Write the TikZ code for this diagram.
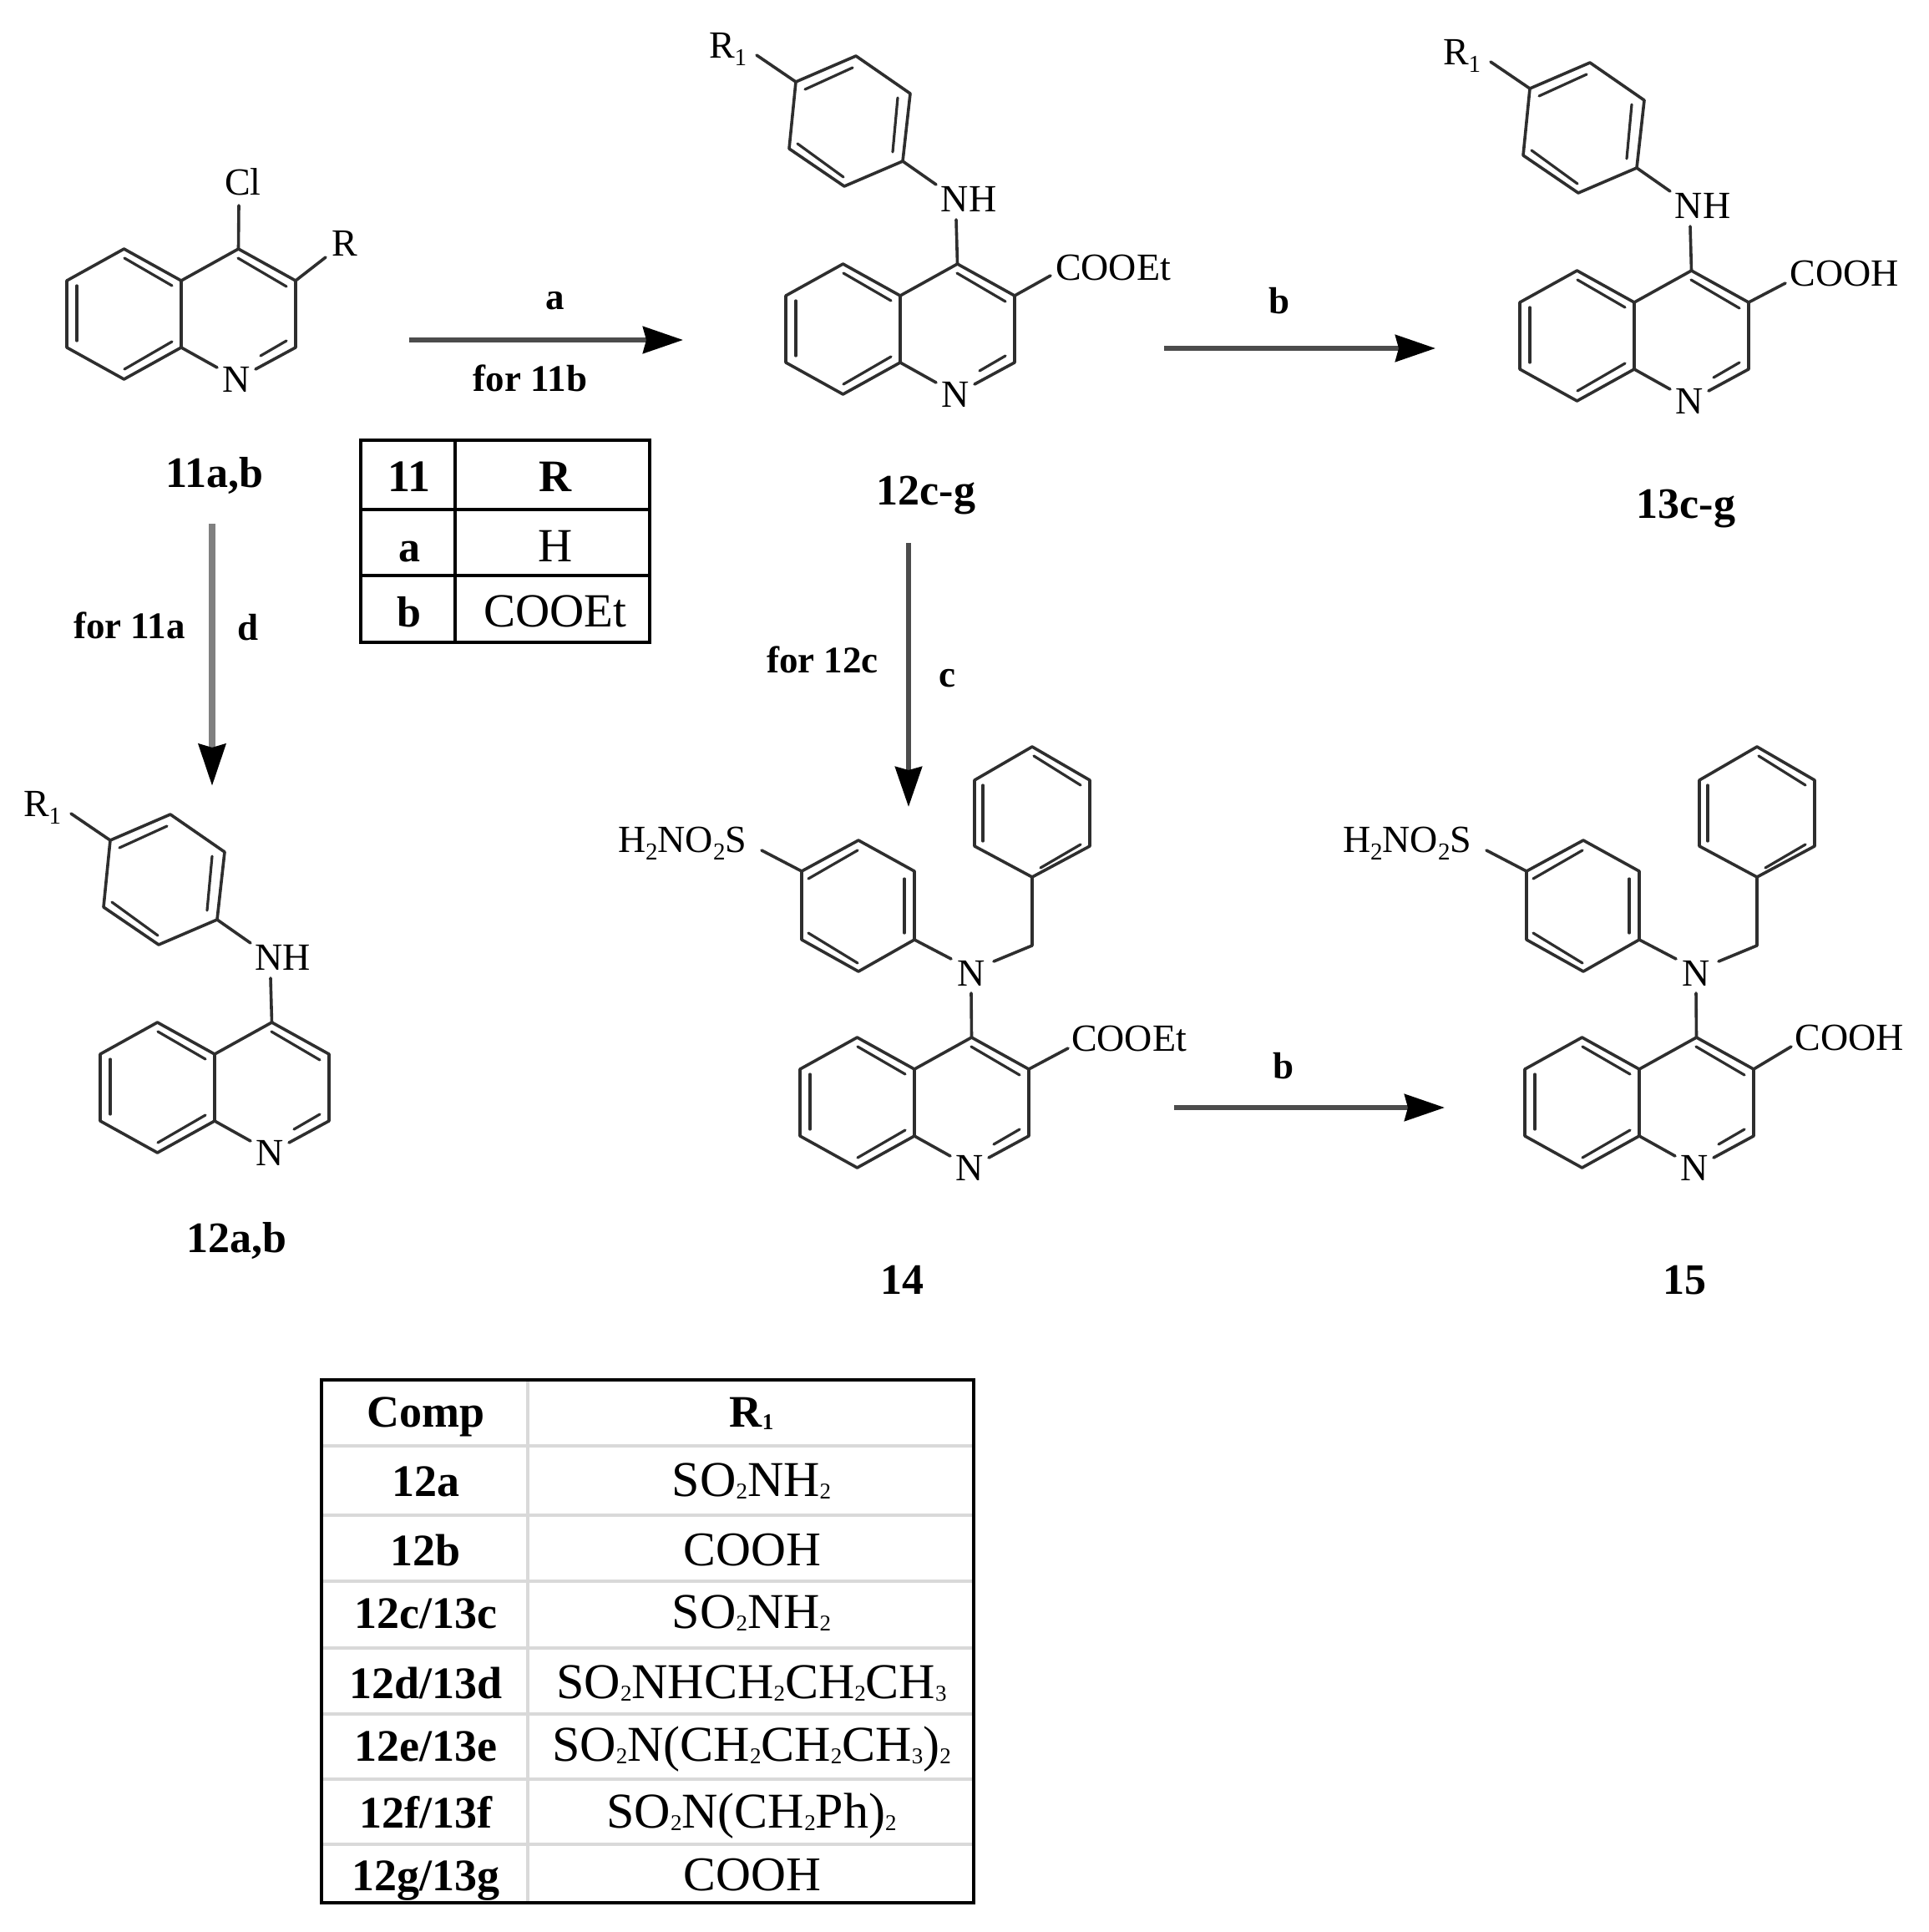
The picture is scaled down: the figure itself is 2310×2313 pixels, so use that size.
\documentclass[tikz,border=0pt]{standalone}
\usepackage{fontspec}
\setmainfont{Liberation Serif}
\usetikzlibrary{arrows.meta}
\definecolor{bondc}{HTML}{2E2E2E}
\definecolor{arrc}{HTML}{4C4C4C}
\definecolor{arrd}{HTML}{808080}
\definecolor{gridc}{HTML}{D9D9D9}
\newcommand{\asub}[1]{\raisebox{-9pt}{\fontsize{29}{29}\selectfont #1}}
\newcommand{\tsub}[1]{\raisebox{-3pt}{\fontsize{27}{27}\selectfont #1}}
\tikzset{
  x=1pt,y=-1pt,
  bond/.style={draw=bondc,line width=3.6pt,line cap=round,line join=round},
  inner/.style={draw=bondc,line width=3.2pt,line cap=round},
  lab/.style={inner sep=0pt,outer sep=0pt,anchor=base,text=black},
  atom/.style={lab,font=\fontsize{46}{46}\selectfont},
  cname/.style={lab,font=\fontsize{52}{52}\selectfont\bfseries},
  rxn/.style={lab,font=\fontsize{45}{45}\selectfont\bfseries},
  tb/.style={lab,font=\fontsize{54}{54}\selectfont\bfseries},
  tr/.style={lab,font=\fontsize{60}{60}\selectfont},
  tq/.style={lab,font=\fontsize{57}{57}\selectfont},
  rarrow/.style={draw=arrc,line width=6pt,-{Stealth[length=48pt,width=32pt,inset=4pt,color=black,fill=black]}},
  darrow/.style={draw=arrd,line width=8pt,-{Stealth[length=50pt,width=32pt,inset=4pt,color=black,fill=black]}},
}
% quinoline core; #1 prefix, #2,#3 position of C4a
\newcommand{\quinoline}[3]{%
  \coordinate (#1o) at (#2,#3);
  \begin{scope}[shift={(#1o)}]
    \coordinate (#1c4a) at (0,0);
    \coordinate (#1c4) at (68.5,-38);
    \coordinate (#1c3) at (137,0);
    \coordinate (#1c2) at (137,80);
    \coordinate (#1c8a) at (0,80);
    \coordinate (#1c8) at (-68.5,118);
    \coordinate (#1c7) at (-137,80);
    \coordinate (#1c6) at (-137,0);
    \coordinate (#1c5) at (-68.5,-38);
    \node[atom] (#1n) at (66.5,133) {N};
    \path[bond] (#1c8a) -- (#1c8) -- (#1c7) -- (#1c6) -- (#1c5) -- (#1c4a) -- (#1c4) -- (#1c3) -- (#1c2) (#1c4a) -- (#1c8a);
    \path[bond] (#1c8a) -- (43,104);
    \path[bond] (#1c2) -- (89,106);
    \path[inner] (-68,-27) -- (-11,6);
    \path[inner] (-125,6) -- (-125,72);
    \path[inner] (-68,106) -- (-11,73);
    \path[inner] (68,-27) -- (126,7);
    \path[inner] (126,72) -- (95,90);
  \end{scope}}
% NH-aryl-R1 substituent, relative to C4a
\newcommand{\anilino}[1]{%
  \begin{scope}[shift={(#1o)}]
    \coordinate (#1a) at (-125,-256);
    \coordinate (#1b) at (-53,-287);
    \coordinate (#1d) at (12,-242);
    \coordinate (#1e) at (3,-161);
    \coordinate (#1f) at (-67,-131);
    \coordinate (#1g) at (-133,-176);
    \path[bond] (#1a) -- (#1b) -- (#1d) -- (#1e) -- (#1f) -- (#1g) -- cycle;
    \path[inner] (-114,-247) -- (-57,-273);
    \path[inner] (-3,-237) -- (-9,-172);
    \path[inner] (-68,-142) -- (-123,-182);
    \node[atom] (#1nh) at (82,-101) {NH};
    \coordinate (#1nhw) at (43,-133);
    \coordinate (#1nhs) at (67,-91);
    \path[bond] (#1e) -- (#1nhw);
    \path[bond] (#1nhs) -- (#1c4);
    \node[atom,anchor=base west] (#1r) at (-229,-285) {R\asub{1}};
    \coordinate (#1re) at (-172,-288);
    \path[bond] (#1re) -- (#1a);
  \end{scope}}
% N(benzyl)-aryl-SO2NH2 substituent, relative to C4a
\newcommand{\benzylamino}[1]{%
  \begin{scope}[shift={(#1o)}]
    \coordinate (#1a) at (-135,-237);
    \coordinate (#1b) at (-67,-274);
    \coordinate (#1d) at (0,-237);
    \coordinate (#1e) at (0,-155);
    \coordinate (#1f) at (-67,-117);
    \coordinate (#1g) at (-135,-155);
    \path[bond] (#1a) -- (#1b) -- (#1d) -- (#1e) -- (#1f) -- (#1g) -- cycle;
    \path[inner] (-127,-228) -- (-68,-262);
    \path[inner] (-12,-228) -- (-12,-163);
    \path[inner] (-68,-127) -- (-127,-163);
    \node[atom] (#1nn) at (68,-100) {N};
    \coordinate (#1nw) at (44,-132);
    \coordinate (#1ns) at (68,-91);
    \coordinate (#1ne) at (95,-129);
    \coordinate (#1ch) at (141,-148);
    \coordinate (#1p1) at (141,-230);
    \coordinate (#1p2) at (210,-267);
    \coordinate (#1p3) at (210,-346);
    \coordinate (#1p4) at (141,-386);
    \coordinate (#1p5) at (72,-346);
    \coordinate (#1p6) at (72,-267);
    \path[bond] (#1e) -- (#1nw);
    \path[bond] (#1ns) -- (#1c4);
    \path[bond] (#1ne) -- (#1ch) -- (#1p1);
    \path[bond] (#1p1) -- (#1p2) -- (#1p3) -- (#1p4) -- (#1p5) -- (#1p6) -- cycle;
    \path[inner] (151,-241) -- (199,-269);
    \path[inner] (143,-375) -- (199,-340);
    \path[inner] (82,-340) -- (82,-273);
    \node[atom,anchor=base west] (#1so) at (-355,-260) {H\asub{2}NO\asub{2}S};
    \coordinate (#1se) at (-183,-262);
    \path[bond] (#1se) -- (#1a);
  \end{scope}}
\begin{document}
\begin{tikzpicture}
\useasboundingbox (0,0) rectangle (2310,2313);
% 11a,b
\quinoline{p}{217}{336}
\begin{scope}[shift={(po)}]
  \node[atom] (pcl) at (74,-103) {Cl};
  \coordinate (pcle) at (69,-90);
  \path[bond] (pcle) -- (pc4);
  \node[atom] (prr) at (196,-30) {R};
  \coordinate (prre) at (173,-28);
  \path[bond] (prre) -- (pc3);
\end{scope}
\node[cname] (l11) at (257,583) {11a,b};
% 12c-g
\quinoline{q}{1078}{354}
\anilino{q}
\begin{scope}[shift={(qo)}]
  \node[atom] (qco) at (255,-19) {COOEt};
  \coordinate (qcoe) at (180,-24);
  \path[bond] (qcoe) -- (qc3);
\end{scope}
\node[cname] (l12cg) at (1109,604) {12c-g};
% 13c-g
\quinoline{s}{1957}{362}
\anilino{s}
\begin{scope}[shift={(so)}]
  \node[atom] (sco) at (252,-20) {COOH};
  \coordinate (scoe) at (181,-23);
  \path[bond] (scoe) -- (sc3);
\end{scope}
\node[cname] (l13cg) at (2019,620) {13c-g};
% 12a,b
\quinoline{t}{257}{1262}
\anilino{t}
\node[cname] (l12ab) at (283,1499) {12a,b};
% 14
\quinoline{u}{1095}{1280}
\benzylamino{u}
\begin{scope}[shift={(uo)}]
  \node[atom] (uco) at (257,-22) {COOEt};
  \coordinate (ucoe) at (184,-25);
  \path[bond] (ucoe) -- (uc3);
\end{scope}
\node[cname] (l14) at (1080,1549) {14};
% 15
\quinoline{v}{1963}{1280}
\benzylamino{v}
\begin{scope}[shift={(vo)}]
  \node[atom] (vco) at (252,-23) {COOH};
  \coordinate (vcoe) at (182,-27);
  \path[bond] (vcoe) -- (vc3);
\end{scope}
\node[cname] (l15) at (2017,1549) {15};
% reaction arrows
\coordinate (a1) at (490,407); \coordinate (a2) at (818,407);
\path[rarrow] (a1) -- (a2);
\node[rxn] (ra) at (665,370) {a};
\node[rxn] (r11b) at (635,468) {for 11b};
\coordinate (b1) at (1394,417); \coordinate (b2) at (1719,417);
\path[rarrow] (b1) -- (b2);
\node[rxn] (rb1) at (1532,375) {b};
\coordinate (b3) at (1406,1326); \coordinate (b4) at (1730,1326);
\path[rarrow] (b3) -- (b4);
\node[rxn] (rb2) at (1537,1291) {b};
\coordinate (c1) at (1088,650); \coordinate (c2) at (1088,966);
\path[rarrow] (c1) -- (c2);
\node[rxn] (r12c) at (985,805) {for 12c};
\node[rxn] (rc) at (1134,822) {c};
\coordinate (d1) at (254,627); \coordinate (d2) at (254,941);
\path[darrow] (d1) -- (d2);
\node[rxn] (r11a) at (155,764) {for 11a};
\node[rxn] (rd) at (297,766) {d};
% table 11
\draw[black,line width=4pt] (432,527) rectangle (778,769);
\draw[black,line width=4pt] (545,527) -- (545,769) (432,610) -- (778,610) (432,689) -- (778,689);
\node[tb] (t11) at (490,588) {11};
\node[tb] (tR) at (665,588) {R};
\node[tb,font=\fontsize{52}{52}\selectfont\bfseries] (ta) at (490,672) {a};
\node[tq] (tH) at (665,672) {H};
\node[tb,font=\fontsize{52}{52}\selectfont\bfseries] (tb1) at (490,750) {b};
\node[tq] (tC) at (665,750) {COOEt};
% table comp
\draw[gridc,line width=4pt] (632,1652) -- (632,2278);
\foreach \yy in {1731,1814,1893,1973,2052,2130,2208}{\draw[gridc,line width=4pt] (385,\yy) -- (1166,\yy);}
\node[tb] (h1) at (510,1708) {Comp};
\node[tb] (h2) at (900,1708) {R\tsub{1}};
\node[tb] (c1a) at (510,1791) {12a};
\node[tr] (c2a) at (900,1791) {SO\tsub{2}NH\tsub{2}};
\node[tb] (c1b) at (510,1874) {12b};
\node[tr,font=\fontsize{58}{58}\selectfont] (c2b) at (901,1874) {COOH};
\node[tb] (c1c) at (510,1949) {12c/13c};
\node[tr] (c2c) at (900,1949) {SO\tsub{2}NH\tsub{2}};
\node[tb] (c1d) at (510,2033) {12d/13d};
\node[tr] (c2d) at (900,2033) {SO\tsub{2}NHCH\tsub{2}CH\tsub{2}CH\tsub{3}};
\node[tb] (c1e) at (510,2108) {12e/13e};
\node[tr] (c2e) at (900,2108) {SO\tsub{2}N(CH\tsub{2}CH\tsub{2}CH\tsub{3})\tsub{2}};
\node[tb] (c1f) at (510,2188) {12f/13f};
\node[tr] (c2f) at (900,2188) {SO\tsub{2}N(CH\tsub{2}Ph)\tsub{2}};
\node[tb] (c1g) at (510,2263) {12g/13g};
\node[tr,font=\fontsize{58}{58}\selectfont] (c2g) at (901,2263) {COOH};
\draw[black,line width=4pt] (385,1652) rectangle (1166,2278);
\end{tikzpicture}
\end{document}
